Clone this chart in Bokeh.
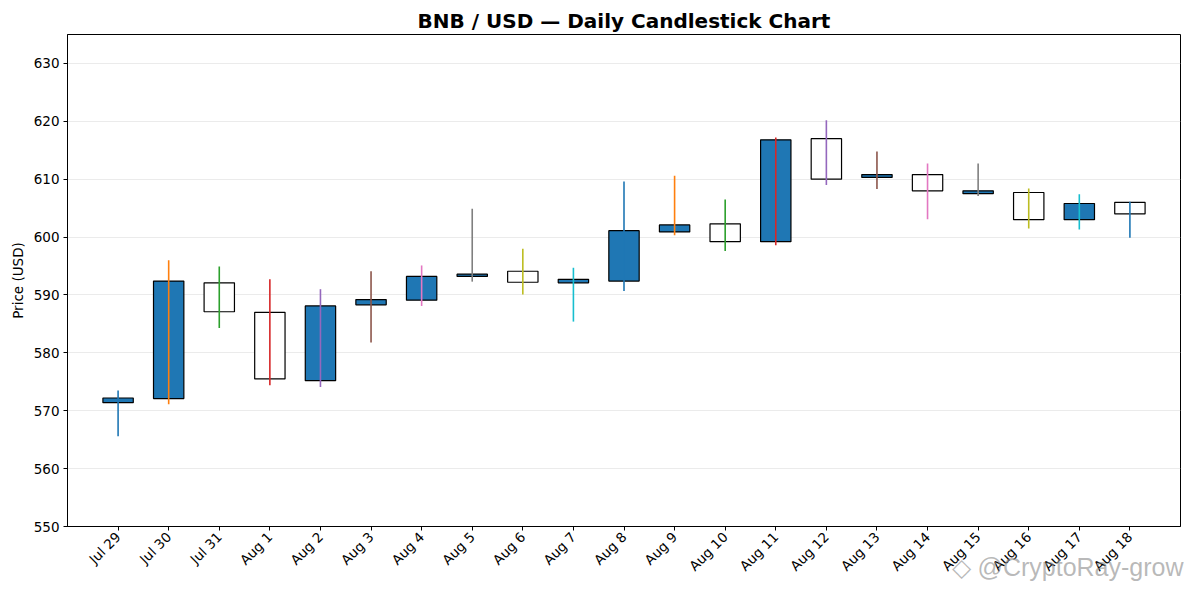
import math
from bokeh.plotting import figure
from bokeh.models import ColumnDataSource, FixedTicker, Title, Range1d
from bokeh.embed import file_html
from bokeh.resources import INLINE

dates = ["Jul 29", "Jul 30", "Jul 31", "Aug 1", "Aug 2", "Aug 3", "Aug 4", "Aug 5",
         "Aug 6", "Aug 7", "Aug 8", "Aug 9", "Aug 10", "Aug 11", "Aug 12", "Aug 13",
         "Aug 14", "Aug 15", "Aug 16", "Aug 17", "Aug 18"]
opens = [571.4, 572.1, 592.1, 587.0, 575.2, 588.3, 589.1, 593.2, 594.1, 592.1, 592.4,
         600.9, 602.3, 599.2, 617.0, 610.3, 610.8, 607.5, 607.7, 603.0, 606.0]
highs = [573.5, 596.0, 594.9, 592.7, 591.0, 594.1, 595.1, 604.9, 598.0, 594.7, 609.6,
         610.6, 606.5, 617.2, 620.2, 614.8, 612.7, 612.7, 608.4, 607.4, 606.1]
lows = [565.6, 571.1, 584.3, 574.4, 574.1, 581.8, 588.1, 592.3, 590.1, 585.4, 590.7,
        600.3, 597.6, 598.6, 609.0, 608.3, 603.1, 607.1, 601.5, 601.3, 599.9]
closes = [572.2, 592.4, 587.1, 575.5, 588.1, 589.2, 593.2, 593.6, 592.2, 592.7, 601.1,
          602.1, 599.2, 616.8, 610.0, 610.8, 608.0, 608.0, 603.0, 605.8, 604.0]

tab10 = ["#1f77b4", "#ff7f0e", "#2ca02c", "#d62728", "#9467bd",
         "#8c564b", "#e377c2", "#7f7f7f", "#bcbd22", "#17becf"]

idx = list(range(len(dates)))
src = ColumnDataSource(dict(
    x=idx,
    top=[max(o, c) for o, c in zip(opens, closes)],
    bottom=[min(o, c) for o, c in zip(opens, closes)],
    high=highs, low=lows,
    fill=["#1f77b4" if c >= o else "white" for o, c in zip(opens, closes)],
    wick=[tab10[i % 10] for i in idx],
))

FONT = "DejaVu Sans"
p = figure(width=1187, height=588, output_backend="svg", toolbar_location=None,
           x_range=Range1d(-1, 21), y_range=Range1d(550, 635),
           min_border_left=67, min_border_right=7, min_border_top=34, min_border_bottom=62,
           title="BNB / USD \u2014 Daily Candlestick Chart")

p.vbar(x="x", width=0.6, top="top", bottom="bottom", source=src,
       fill_color="fill", line_color="black", line_width=1.2)
p.segment(x0="x", y0="low", x1="x", y1="high", source=src,
          line_color="wick", line_width=1.6)

p.title.text_font = FONT
p.title.text_font_size = "20px"
p.title.text_font_style = "bold"
p.title.align = "center"
p.title.standoff = 4
p.title.text_color = "black"

p.xaxis.ticker = FixedTicker(ticks=idx)
p.xaxis.major_label_overrides = {i: d for i, d in enumerate(dates)}
p.xaxis.major_label_orientation = math.pi / 4
p.yaxis.ticker = FixedTicker(ticks=[550, 560, 570, 580, 590, 600, 610, 620, 630])
p.yaxis.axis_label = "Price (USD)"

for ax in (p.xaxis, p.yaxis):
    ax.major_label_text_font = FONT
    ax.major_label_text_font_size = "13.5px"
    ax.major_label_text_color = "black"
    ax.axis_label_text_font = FONT
    ax.axis_label_text_font_size = "13.5px"
    ax.axis_label_text_font_style = "normal"
    ax.axis_label_text_color = "black"
    ax.axis_line_color = "black"
    ax.major_tick_line_color = "black"
    ax.major_tick_out = 4
    ax.major_tick_in = 0
    ax.minor_tick_line_color = None
    ax.major_label_standoff = 4

p.xgrid.grid_line_color = None
p.ygrid.grid_line_color = "#e6e6e6"
p.ygrid.grid_line_width = 0.8
p.outline_line_color = "black"
p.outline_line_width = 1
p.outline_line_alpha = 1

# watermark (drawn in the bottom border, overlapping the tick labels)
wm = Title(text="\u25c7 @CryptoRay-grow", align="right", vertical_align="top",
           text_font="Liberation Sans", text_font_size="25px", text_font_style="normal",
           text_color="#8a8a8a", text_alpha=0.6, standoff=-60, offset=-3)
p.add_layout(wm, "below")

open("out.html", "w").write(file_html(p, INLINE))
